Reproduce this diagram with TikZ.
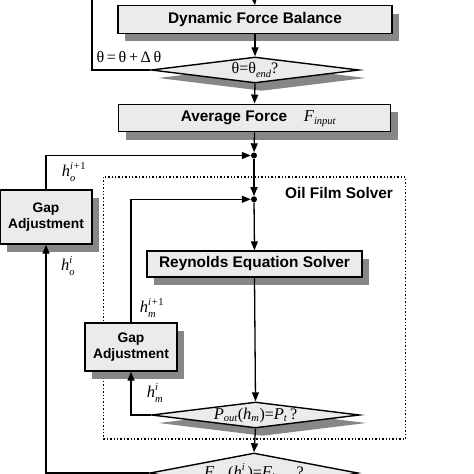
\documentclass[tikz,border=0pt]{standalone}
\usepackage{fontspec}
\setmainfont{Liberation Sans}
\newfontfamily\serifff{Liberation Serif}
\usetikzlibrary{shapes.geometric,arrows.meta,shadows}
\newcommand\sv[1]{\mbox{\serifff\itshape\fontsize{16.5}{16.5}\selectfont #1}}
\newcommand\subtxt[1]{\mbox{\serifff\itshape\fontsize{10.5}{10.5}\selectfont #1}}
\newcommand\uptxt[1]{\mbox{\serifff\fontsize{16}{16}\selectfont #1}}
\newcommand\supone{\mbox{\serifff\fontsize{10.5}{10.5}\selectfont 1}}
\tikzset{
  shad/.style={drop shadow={shadow xshift=7pt,shadow yshift=-8pt,fill=black!47,opacity=1}},
  procbox/.style={draw,line width=1.4pt,fill=black!8,inner sep=0pt,shad,
    font=\fontsize{15.4}{16}\selectfont\bfseries},
  gapbox/.style={draw,line width=1.4pt,fill=black!8,inner sep=0pt,shad,align=center,
    font=\fontsize{13.8}{16}\selectfont\bfseries,minimum width=92pt},
  decide/.style={diamond,draw,line width=1.4pt,fill=black!8,inner sep=0pt,shad,
    minimum width=208pt,font=\serifff\fontsize{16}{16}\selectfont},
  arr/.style={line width=1.3pt,-{Triangle[length=9pt,width=7pt]}},
  ln/.style={line width=1.3pt},
  jdot/.style={circle,fill=black,inner sep=0pt,minimum size=6pt},
  lab/.style={font=\serifff\fontsize{16}{16}\selectfont,inner sep=0pt},
  region/.style={line width=1.3pt,dash pattern=on 1.4pt off 2pt},
}
\begin{document}
\begin{tikzpicture}[x=1pt,y=-1pt]
\useasboundingbox (0,0) rectangle (474,474);
% region
\draw[region] (103.5,177) rectangle (405.5,439);
\node[font=\fontsize{15.4}{16}\selectfont\bfseries] (ofs) at (339,193) {Oil Film Solver};
% boxes
\node[procbox,minimum width=274pt,minimum height=27.5pt] (dfb) at (255,19.5) {Dynamic Force Balance};
\node[decide,aspect=8,minimum height=26pt] (d1) at (255,70) {θ=θ\raisebox{-3.5pt}{\subtxt{end}}?};
\node[procbox,minimum width=272pt,minimum height=27.5pt] (avg) at (254.5,118) {};
\node[font=\fontsize{15.4}{16}\selectfont\bfseries] (avgt) at (234,118) {Average Force};
\node[lab] (fin) at (320,119) {$\sv{F}_{\subtxt{input}}$};
\node[jdot] (j1) at (254,155.5) {};
\node[jdot] (j2) at (254,199.3) {};
\node[gapbox,minimum height=54pt] (gapL) at (46,217) {Gap\\Adjustment};
\node[procbox,minimum width=215pt,minimum height=26pt] (rey) at (254.5,264) {Reynolds Equation Solver};
\node[gapbox,minimum height=48pt] (gapI) at (131,347) {Gap\\Adjustment};
\node[decide,aspect=8,minimum height=26pt] (d2) at (255.5,415)
  {$\sv{P}_{\subtxt{out}}\uptxt{(}\sv{h}_{\subtxt{m}}\uptxt{)=}\sv{P}_{\subtxt{t}}\uptxt{\,?}$};
\node[decide,aspect=5.2,minimum height=40pt] (d3) at (254,473)
  {$\sv{F}_{\subtxt{out}}\uptxt{(}\sv{h}_{\subtxt{o}}^{\subtxt{i}}\uptxt{)=}\sv{F}_{\subtxt{input}}\uptxt{\,?}$};
% free ends
\coordinate (topin) at (254,-3);
\coordinate (ltop) at (92,-3);
% connectors
\draw[arr] (topin) -- (dfb.north);
\draw[arr] (dfb.south) -- (d1.north);
\draw[ln] (d1.west) -| (ltop);
\draw[arr] (d1.south) -- (avg.north);
\draw[arr] (avg.south) -- (j1);
\draw[arr] (gapL.north) |- (j1.west);
\draw[arr] (j1) -- (j2);
\draw[arr] (gapI.north) |- (j2.west);
\draw[arr] (j2) -- (rey.north);
\draw[arr] (rey.south) -- (d2.north);
\draw[arr] (d2.west) -| (gapI.south);
\draw[arr] (d2.south) -- (d3.north);
\draw[arr] (d3.west) -| (gapL.south);
% labels
\node[lab] (lt) at (129,57) {θ\,=\,θ\,+\,Δ\,θ};
\node[lab] (lho1) at (74,172) {$\sv{h}_{\subtxt{o}}^{\subtxt{i+}\supone}$};
\node[lab] (lho) at (68,266) {$\sv{h}_{\subtxt{o}}^{\subtxt{i}}$};
\node[lab] (lhm1) at (152,308) {$\sv{h}_{\subtxt{m}}^{\subtxt{i+}\supone}$};
\node[lab] (lhm) at (155,393) {$\sv{h}_{\subtxt{m}}^{\subtxt{i}}$};
\end{tikzpicture}
\end{document}
